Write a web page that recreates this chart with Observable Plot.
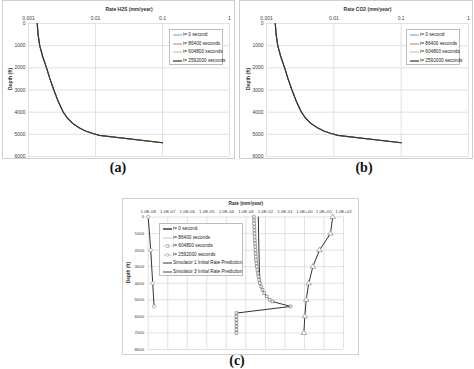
<!DOCTYPE html>
<html><head><meta charset="utf-8">
<script src="https://cdn.jsdelivr.net/npm/d3@7"></script>
<script src="https://cdn.jsdelivr.net/npm/@observablehq/plot@0.6"></script>
<style>
html,body{margin:0;padding:0;background:#fff;}
#root{position:relative;width:474px;height:369px;overflow:hidden;font-family:"Liberation Sans",Arial,sans-serif;background:#fff;}
.frame{position:absolute;border:1px solid #cfcfcf;box-sizing:border-box;}
.legend{position:absolute;background:#fff;border:1px solid #bdbdbd;box-sizing:border-box;}
.lg{position:absolute;white-space:nowrap;font-size:4.7px;color:#222;line-height:6px;}
.lg svg{position:absolute;}
.plabel{position:absolute;font-family:"Liberation Serif","Times New Roman",serif;font-weight:bold;font-size:14px;color:#111;transform:translateX(-50%);line-height:14px;}
svg.plt{position:absolute;overflow:visible;}
</style></head><body><div id="root"></div>
<script>
// ---------- Data ----------
// Panels (a) and (b)
const ticksAB = [0.001, 0.01, 0.1, 1];
const tickLabelsAB = ["0.001", "0.01", "0.1", "1"];
const depthTicksAB = [0, 1000, 2000, 3000, 4000, 5000, 6000];
const seriesNamesAB = ["t= 0 second", "t= 86400 seconds", "t= 604800 seconds", "t= 2592000 seconds"];
const seriesColorsAB = ["#4f81bd", "#c0504d", "#9bbb59", "#333333"];
const depthAB = [0, 500, 1000, 1500, 2000, 2500, 3000, 3500, 4000, 4250, 4500, 4700, 4850, 4950, 5050, 5380];
const rateH2S = [0.00135, 0.00139, 0.00147, 0.00163, 0.00186, 0.00209, 0.00239, 0.00276, 0.0033, 0.00376, 0.00453, 0.00567, 0.0071, 0.0089, 0.0115, 0.1];
const rateCO2 = [0.00135, 0.00139, 0.00147, 0.00163, 0.00186, 0.00209, 0.00239, 0.00276, 0.0033, 0.00376, 0.00453, 0.00567, 0.0071, 0.0089, 0.0115, 0.1];

// Panel (c)
const ticksC = [1e-8, 1e-7, 1e-6, 1e-5, 1e-4, 1e-3, 1e-2, 1e-1, 1e0, 1e1, 1e2];
const tickLabelsC = ["1.0E-08", "1.0E-07", "1.0E-06", "1.0E-05", "1.0E-04", "1.0E-03", "1.0E-02", "1.0E-01", "1.0E+00", "1.0E+01", "1.0E+02"];
const depthTicksC = [0, 1000, 2000, 3000, 4000, 5000, 6000, 7000, 8000];
const legendNamesC = ["t= 0 second", "t= 86400 seconds", "t= 604800 seconds", "t= 2592000 seconds", "Simulator 1 Initial Rate Prediction", "Simulator 3 Initial Rate Prediction"];
// circle-marked curve (far left)
const depthCirc = [0, 2000, 4000, 5400];
const rateCirc = [1.0e-8, 1.35e-8, 1.7e-8, 2.0e-8];
// square-marked curve (middle)
const depthSq = [0, 200, 400, 600, 800, 1000, 1200, 1400, 1600, 1800, 2000, 2200, 2400, 2600, 2800, 3000, 3200, 3400, 3600, 3800, 4000, 4200, 4400, 4600, 4800, 5000, 5100, 5400, 5800, 6000, 6200, 6400, 6600, 6800, 7000];
const rateSq = [2.57e-3, 2.63e-3, 2.63e-3, 2.69e-3, 2.75e-3, 2.75e-3, 2.82e-3, 2.88e-3, 2.95e-3, 3.02e-3, 3.09e-3, 3.16e-3, 3.24e-3, 3.31e-3, 3.47e-3, 3.63e-3, 3.89e-3, 4.17e-3, 4.47e-3, 4.79e-3, 5.25e-3, 6.03e-3, 7.08e-3, 8.71e-3, 1.17e-2, 1.66e-2, 2.24e-2, 0.195, 3.3e-4, 3.3e-4, 3.3e-4, 3.3e-4, 3.3e-4, 3.3e-4, 3.3e-4];
// simulator line (middle)
const depthSim = [0, 1000, 2000, 3000, 4000, 4200, 4400, 4600, 4800, 5000, 5100, 5400, 5800, 7000];
const rateSim = [4.37e-3, 4.47e-3, 4.68e-3, 4.9e-3, 5.25e-3, 6.03e-3, 7.08e-3, 8.71e-3, 1.17e-2, 1.66e-2, 2.24e-2, 0.195, 3.3e-4, 3.3e-4];
// triangle-marked curve (right)
const depthTri = [0, 1000, 2000, 3000, 4000, 5000, 6000, 7000];
const rateTri = [28, 21.5, 5.9, 2.7, 1.66, 1.23, 1.05, 0.93];

// ---------- Helpers ----------
const root = document.getElementById("root");
const rows = (ds, rs) => ds.map((d, i) => ({depth: d, rate: rs[i]}));
const fmt = (ticks, labels) => d => labels[ticks.findIndex(t => Math.abs(t - d) / t < 1e-9)] ?? "";
const FONT = "Liberation Sans, Arial, sans-serif";

function addFrame(l, t, w, h) {
  const f = document.createElement("div");
  f.className = "frame";
  Object.assign(f.style, {left: l + "px", top: t + "px", width: w + "px", height: h + "px"});
  root.appendChild(f);
}
function place(svg, l, t) {
  svg.classList.add("plt");
  svg.style.left = l + "px"; svg.style.top = t + "px";
  root.appendChild(svg);
}
function addLabel(txt, cx, top) {
  const d = document.createElement("div");
  d.className = "plabel"; d.textContent = txt;
  d.style.left = cx + "px"; d.style.top = top + "px";
  root.appendChild(d);
}
function swatch(kind, color, w) {
  const ns = "http://www.w3.org/2000/svg";
  const s = document.createElementNS(ns, "svg");
  s.setAttribute("width", 10); s.setAttribute("height", 6);
  const ln = document.createElementNS(ns, "line");
  ln.setAttribute("x1", 0); ln.setAttribute("x2", 9); ln.setAttribute("y1", 3); ln.setAttribute("y2", 3);
  ln.setAttribute("stroke", color); ln.setAttribute("stroke-width", w);
  s.appendChild(ln);
  if (kind === "circle" || kind === "square") {
    const m = document.createElementNS(ns, kind === "circle" ? "circle" : "rect");
    if (kind === "circle") { m.setAttribute("cx", 4.5); m.setAttribute("cy", 3); m.setAttribute("r", 1.4); }
    else { m.setAttribute("x", 3.2); m.setAttribute("y", 1.7); m.setAttribute("width", 2.6); m.setAttribute("height", 2.6); }
    m.setAttribute("fill", "#fff"); m.setAttribute("stroke", "#999"); m.setAttribute("stroke-width", 0.6);
    s.appendChild(m);
  }
  return s;
}
function addLegend(l, t, w, h, items, x0, y0, dy) {
  const box = document.createElement("div");
  box.className = "legend";
  Object.assign(box.style, {left: l + "px", top: t + "px", width: w + "px", height: h + "px"});
  items.forEach((it, i) => {
    const row = document.createElement("div");
    row.className = "lg";
    row.style.left = x0 + "px"; row.style.top = (y0 + i * dy - 3) + "px";
    const sw = swatch(it.kind, it.color, it.width);
    sw.style.left = "0px"; sw.style.top = "0px";
    row.appendChild(sw);
    const sp = document.createElement("span");
    sp.textContent = it.name; sp.style.marginLeft = "10px";
    row.appendChild(sp);
    box.appendChild(row);
  });
  root.appendChild(box);
}

// ---------- Panels (a) and (b) ----------
function plotAB(title, rates, w, ml, mr) {
  const data = rows(depthAB, rates);
  return Plot.plot({
    width: w, height: 159,
    marginLeft: ml, marginRight: mr, marginTop: 23, marginBottom: 3,
    style: {fontFamily: FONT, fontSize: "5px", color: "#404040", background: "transparent"},
    x: {type: "log", domain: [0.001, 1]},
    y: {domain: [0, 6000], reverse: true},
    marks: [
      Plot.gridX(ticksAB, {stroke: "#d9d9d9", strokeOpacity: 1, strokeWidth: 0.8}),
      Plot.gridY(depthTicksAB, {stroke: "#d9d9d9", strokeOpacity: 1, strokeWidth: 0.8}),
      Plot.axisX(ticksAB, {anchor: "top", tickSize: 0, tickPadding: 4, tickFormat: fmt(ticksAB, tickLabelsAB), label: null}),
      Plot.axisY(depthTicksAB, {anchor: "left", tickSize: 0, tickPadding: 3, tickFormat: d => String(d), label: null}),
      ...seriesNamesAB.map((n, i) => Plot.line(data, {x: "rate", y: "depth", stroke: seriesColorsAB[i], strokeWidth: i === 3 ? 1.2 : 1})),
      Plot.text([title], {text: d => d, frameAnchor: "top", dy: -14, lineAnchor: "middle", fontWeight: "bold", fill: "#333", fontSize: 5})
,
      Plot.text(["Depth (ft)"], {text: d => d, frameAnchor: "left", dx: -18, rotate: -90, lineAnchor: "middle", fontWeight: "bold", fill: "#333", fontSize: 5})
    ]
  });
}
const legendItemsAB = seriesNamesAB.map((n, i) => ({name: n, color: seriesColorsAB[i], width: i === 3 ? 1.2 : 0.8, kind: "line"}));

addFrame(2, 0, 233, 159);
place(plotAB("Rate H2S (mm/year)", rateH2S, 233, 26, 6), 2, 0);
addLegend(169, 29, 54, 36, legendItemsAB, 3, 5, 8.7);
addLabel("(a)", 118, 161);

addFrame(239, 0, 234, 159);
place(plotAB("Rate CO2 (mm/year)", rateCO2, 234, 27, 5), 239, 0);
addLegend(406, 29, 54, 36, legendItemsAB, 3, 5, 8.7);
addLabel("(b)", 364, 161);

// ---------- Panel (c) ----------
const circ = rows(depthCirc, rateCirc), sq = rows(depthSq, rateSq), sim = rows(depthSim, rateSim), tri = rows(depthTri, rateTri);
const plotC = Plot.plot({
  width: 237, height: 157,
  marginLeft: 25.7, marginRight: 16, marginTop: 18.5, marginBottom: 6,
  style: {fontFamily: FONT, fontSize: "4.4px", color: "#404040", background: "transparent"},
  x: {type: "log", domain: [1e-8, 1e2]},
  y: {domain: [0, 8000], reverse: true},
  marks: [
    Plot.gridX(ticksC, {stroke: "#d9d9d9", strokeOpacity: 1, strokeWidth: 0.8}),
    Plot.gridY(depthTicksC, {stroke: "#d9d9d9", strokeOpacity: 1, strokeWidth: 0.8}),
    Plot.axisX(ticksC, {anchor: "top", tickSize: 0, tickPadding: 4, tickFormat: fmt(ticksC, tickLabelsC), label: null}),
    Plot.axisY(depthTicksC, {anchor: "left", tickSize: 0, tickPadding: 4, tickFormat: d => String(d), label: null}),
    Plot.line(circ, {x: "rate", y: "depth", stroke: "#333", strokeWidth: 1}),
    Plot.dot(circ, {x: "rate", y: "depth", symbol: "circle", r: 1.7, fill: "#fff", stroke: "#888", strokeWidth: 0.6}),
    Plot.line(sim, {x: "rate", y: "depth", stroke: "#333", strokeWidth: 1}),
    Plot.dot(sq, {x: "rate", y: "depth", symbol: "square", r: 1.5, fill: "#fff", stroke: "#666", strokeWidth: 0.6}),
    Plot.line(tri, {x: "rate", y: "depth", stroke: "#333", strokeWidth: 1}),
    Plot.dot(tri, {x: "rate", y: "depth", symbol: "triangle", r: 2, fill: "#fff", stroke: "#777", strokeWidth: 0.6}),
    Plot.text(["Rate (mm/year)"], {text: d => d, frameAnchor: "top", dy: -13.5, lineAnchor: "middle", fontWeight: "bold", fill: "#333", fontSize: 4.8}),
    Plot.text(["Depth (ft)"], {text: d => d, frameAnchor: "left", dx: -19.7, rotate: -90, lineAnchor: "middle", fontWeight: "bold", fill: "#333", fontSize: 4.8})
  ]
});
addFrame(122, 198, 237, 157);
place(plotC, 122, 198);
const legendItemsC = [
  {name: legendNamesC[0], color: "#333", width: 1.4, kind: "line"},
  {name: legendNamesC[1], color: "#aaa", width: 0.7, kind: "line"},
  {name: legendNamesC[2], color: "#bbb", width: 0.7, kind: "square"},
  {name: legendNamesC[3], color: "#bbb", width: 0.7, kind: "circle"},
  {name: legendNamesC[4], color: "#333", width: 1, kind: "line"},
  {name: legendNamesC[5], color: "#444", width: 1, kind: "line"}
];
addLegend(159, 223, 84, 53, legendItemsC, 3, 5, 8.6);
addLabel("(c)", 237, 354);
</script></body></html>
